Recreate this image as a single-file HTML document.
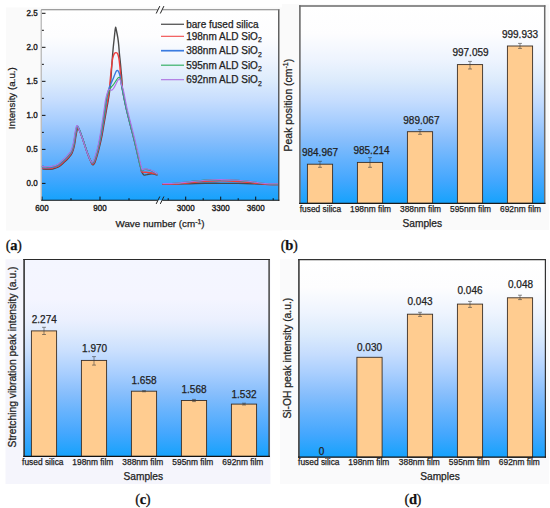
<!DOCTYPE html>
<html><head><meta charset="utf-8"><style>
html,body{margin:0;padding:0;background:#fff;}
svg{display:block;font-family:"Liberation Sans", sans-serif;}
text{stroke:currentColor;stroke-width:0.25px;}
</style></head><body>
<svg width="550" height="508" viewBox="0 0 550 508">
<defs>
<linearGradient id="gA" x1="0" y1="0" x2="0" y2="1">
 <stop offset="0" stop-color="#ffffff"/>
 <stop offset="0.14" stop-color="#fdfdfe"/>
 <stop offset="0.27" stop-color="#eef4fe"/>
 <stop offset="0.376" stop-color="#dcebfc"/>
 <stop offset="0.477" stop-color="#c6ddfe"/>
 <stop offset="0.579" stop-color="#a8cefe"/>
 <stop offset="0.68" stop-color="#87befc"/>
 <stop offset="0.782" stop-color="#64b2fd"/>
 <stop offset="0.883" stop-color="#44a7fe"/>
 <stop offset="1" stop-color="#16a2fc"/>
</linearGradient>
<linearGradient id="gB" x1="0" y1="0" x2="0" y2="1">
 <stop offset="0" stop-color="#ffffff"/>
 <stop offset="0.14" stop-color="#fdfdfe"/>
 <stop offset="0.27" stop-color="#eef4fe"/>
 <stop offset="0.376" stop-color="#dcebfc"/>
 <stop offset="0.477" stop-color="#c6ddfe"/>
 <stop offset="0.579" stop-color="#a8cefe"/>
 <stop offset="0.68" stop-color="#87befc"/>
 <stop offset="0.782" stop-color="#64b2fd"/>
 <stop offset="0.883" stop-color="#44a7fe"/>
 <stop offset="1" stop-color="#16a2fc"/>
</linearGradient>
<linearGradient id="gC" x1="0" y1="0" x2="0" y2="1">
 <stop offset="0" stop-color="#f4f6ff"/>
 <stop offset="0.2" stop-color="#f4f5ff"/>
 <stop offset="0.307" stop-color="#ebf0fe"/>
 <stop offset="0.376" stop-color="#deeafd"/>
 <stop offset="0.46" stop-color="#cbe0fe"/>
 <stop offset="0.579" stop-color="#a8cefe"/>
 <stop offset="0.68" stop-color="#87befc"/>
 <stop offset="0.782" stop-color="#64b2fd"/>
 <stop offset="0.883" stop-color="#44a7fe"/>
 <stop offset="1" stop-color="#16a2fc"/>
</linearGradient>
</defs>
<rect width="550" height="508" fill="#fff"/>
<rect x="6" y="7.5" width="276" height="223" fill="#fafafa"/>
<rect x="41.9" y="9.8" width="236.9" height="190.4" fill="url(#gA)"/>
<line x1="41.9" y1="183.4" x2="45.5" y2="183.4" stroke="#111" stroke-width="1"/>
<text transform="translate(37.6 185.8) scale(0.9 1)" font-size="8.9" text-anchor="end" fill="#222" style="color:#222;stroke-width:0.4px">0.0</text>
<line x1="41.9" y1="166.39" x2="43.9" y2="166.39" stroke="#111" stroke-width="1"/>
<line x1="41.9" y1="149.38" x2="45.5" y2="149.38" stroke="#111" stroke-width="1"/>
<text transform="translate(37.6 151.78) scale(0.9 1)" font-size="8.9" text-anchor="end" fill="#222" style="color:#222;stroke-width:0.4px">0.5</text>
<line x1="41.9" y1="132.37" x2="43.9" y2="132.37" stroke="#111" stroke-width="1"/>
<line x1="41.9" y1="115.36" x2="45.5" y2="115.36" stroke="#111" stroke-width="1"/>
<text transform="translate(37.6 117.76) scale(0.9 1)" font-size="8.9" text-anchor="end" fill="#222" style="color:#222;stroke-width:0.4px">1.0</text>
<line x1="41.9" y1="98.35" x2="43.9" y2="98.35" stroke="#111" stroke-width="1"/>
<line x1="41.9" y1="81.34" x2="45.5" y2="81.34" stroke="#111" stroke-width="1"/>
<text transform="translate(37.6 83.74) scale(0.9 1)" font-size="8.9" text-anchor="end" fill="#222" style="color:#222;stroke-width:0.4px">1.5</text>
<line x1="41.9" y1="64.33" x2="43.9" y2="64.33" stroke="#111" stroke-width="1"/>
<line x1="41.9" y1="47.32" x2="45.5" y2="47.32" stroke="#111" stroke-width="1"/>
<text transform="translate(37.6 49.72) scale(0.9 1)" font-size="8.9" text-anchor="end" fill="#222" style="color:#222;stroke-width:0.4px">2.0</text>
<line x1="41.9" y1="30.31" x2="43.9" y2="30.31" stroke="#111" stroke-width="1"/>
<line x1="41.9" y1="13.3" x2="45.5" y2="13.3" stroke="#111" stroke-width="1"/>
<text transform="translate(37.6 15.7) scale(0.9 1)" font-size="8.9" text-anchor="end" fill="#222" style="color:#222;stroke-width:0.4px">2.5</text>
<line x1="42" y1="200.2" x2="42" y2="196.6" stroke="#111" stroke-width="1"/>
<line x1="71" y1="200.2" x2="71" y2="198.2" stroke="#111" stroke-width="1"/>
<line x1="100" y1="200.2" x2="100" y2="196.6" stroke="#111" stroke-width="1"/>
<line x1="129" y1="200.2" x2="129" y2="198.2" stroke="#111" stroke-width="1"/>
<line x1="168.2" y1="200.2" x2="168.2" y2="198.2" stroke="#111" stroke-width="1"/>
<line x1="185.7" y1="200.2" x2="185.7" y2="196.6" stroke="#111" stroke-width="1"/>
<line x1="203.2" y1="200.2" x2="203.2" y2="198.2" stroke="#111" stroke-width="1"/>
<line x1="220.7" y1="200.2" x2="220.7" y2="196.6" stroke="#111" stroke-width="1"/>
<line x1="238.2" y1="200.2" x2="238.2" y2="198.2" stroke="#111" stroke-width="1"/>
<line x1="255.7" y1="200.2" x2="255.7" y2="196.6" stroke="#111" stroke-width="1"/>
<line x1="273.2" y1="200.2" x2="273.2" y2="198.2" stroke="#111" stroke-width="1"/>
<text transform="translate(42 210.8) scale(0.9 1)" font-size="8.9" text-anchor="middle" fill="#222" style="color:#222;stroke-width:0.4px">600</text>
<text transform="translate(100 210.8) scale(0.9 1)" font-size="8.9" text-anchor="middle" fill="#222" style="color:#222;stroke-width:0.4px">900</text>
<text transform="translate(185.7 210.8) scale(0.9 1)" font-size="8.9" text-anchor="middle" fill="#222" style="color:#222;stroke-width:0.4px">3000</text>
<text transform="translate(220.7 210.8) scale(0.9 1)" font-size="8.9" text-anchor="middle" fill="#222" style="color:#222;stroke-width:0.4px">3300</text>
<text transform="translate(255.7 210.8) scale(0.9 1)" font-size="8.9" text-anchor="middle" fill="#222" style="color:#222;stroke-width:0.4px">3600</text>
<path d="M42.5 169.1C43.33 169.15 45.83 169.42 47.5 169.4C49.17 169.38 50.67 169.4 52.5 169C54.33 168.6 56.57 168.12 58.5 167C60.43 165.88 62.43 163.8 64.1 162.3C65.77 160.8 67.18 159.5 68.5 158C69.82 156.5 71.03 155.33 72 153.3C72.97 151.27 73.62 148.88 74.3 145.8C74.98 142.72 75.53 137.72 76.1 134.8C76.67 131.88 77.13 129.02 77.7 128.3C78.27 127.58 78.62 128.57 79.5 130.5C80.38 132.43 81.63 136 83 139.9C84.37 143.8 86.42 150.33 87.7 153.9C88.98 157.47 89.9 159.52 90.7 161.3C91.5 163.08 91.87 164.27 92.5 164.6C93.13 164.93 93.72 164.85 94.5 163.3C95.28 161.75 96.3 158.35 97.2 155.3C98.1 152.25 99.08 148.38 99.9 145C100.72 141.62 101.42 138.5 102.1 135C102.78 131.5 103.42 127.33 104 124C104.58 120.67 105.1 117.83 105.6 115C106.1 112.17 106.55 109.5 107 107C107.45 104.5 107.83 102.83 108.3 100C108.77 97.17 109.38 93.33 109.8 90C110.22 86.67 110.52 83.33 110.8 80C111.08 76.67 111.27 73.33 111.5 70C111.73 66.67 111.92 63.67 112.2 60C112.48 56.33 112.85 51.72 113.2 48C113.55 44.28 114 40.53 114.3 37.7C114.6 34.87 114.78 32.73 115 31C115.22 29.27 115.38 27.47 115.6 27.3C115.82 27.13 115.93 28.27 116.3 30C116.67 31.73 117.4 35.2 117.8 37.7C118.2 40.2 118.43 42.37 118.7 45C118.97 47.63 119.13 50.67 119.4 53.5C119.67 56.33 120 58.92 120.3 62C120.6 65.08 120.93 69 121.2 72C121.47 75 121.67 77 121.9 80C122.13 83 121.88 85.37 122.6 90C123.32 94.63 124.87 101.88 126.2 107.8C127.53 113.72 129.12 119.58 130.6 125.5C132.08 131.42 133.67 137.38 135.1 143.3C136.53 149.22 138.23 156.87 139.2 161C140.17 165.13 140.5 166.35 140.9 168.1C141.3 169.85 141.12 170.35 141.6 171.5C142.08 172.65 142.9 174.48 143.8 175C144.7 175.52 145.63 174.8 147 174.6C148.37 174.4 150.23 173.73 152 173.8C153.77 173.87 156.67 174.8 157.6 175" fill="none" stroke="#4a4a4a" stroke-width="1.4" stroke-linejoin="round"/>
<path d="M162.3 184.3C164.42 184.27 170.38 184.2 175 184.1C179.62 184 185 183.83 190 183.7C195 183.57 199.83 183.36 205 183.3C210.17 183.24 215.5 183.32 221 183.34C226.5 183.36 232.83 183.34 238 183.4C243.17 183.46 247.5 183.55 252 183.7C256.5 183.85 260.67 184.15 265 184.3C269.33 184.45 275.83 184.55 278 184.6" fill="none" stroke="#4a4a4a" stroke-width="1.4"/>
<path d="M42.2 168.3C43.03 168.35 45.53 168.62 47.2 168.6C48.87 168.58 50.37 168.6 52.2 168.2C54.03 167.8 56.27 167.32 58.2 166.2C60.13 165.08 62.13 163 63.8 161.5C65.47 160 66.88 158.7 68.2 157.2C69.52 155.7 70.73 154.53 71.7 152.5C72.67 150.47 73.32 148.08 74 145C74.68 141.92 75.23 136.92 75.8 134C76.37 131.08 76.83 128.22 77.4 127.5C77.97 126.78 78.32 127.77 79.2 129.7C80.08 131.63 81.33 135.2 82.7 139.1C84.07 143 86.12 149.53 87.4 153.1C88.68 156.67 89.6 158.72 90.4 160.5C91.2 162.28 91.57 163.47 92.2 163.8C92.83 164.13 93.42 164.05 94.2 162.5C94.98 160.95 96.05 157.42 96.9 154.5C97.75 151.58 98.53 148.25 99.3 145C100.07 141.75 100.82 138.5 101.5 135C102.18 131.5 102.82 127.33 103.4 124C103.98 120.67 104.5 117.83 105 115C105.5 112.17 105.95 109.5 106.4 107C106.85 104.5 107.22 102.83 107.7 100C108.18 97.17 108.88 93.33 109.3 90C109.72 86.67 109.88 83.33 110.2 80C110.52 76.67 110.83 73.33 111.2 70C111.57 66.67 112.05 62.33 112.4 60C112.75 57.67 112.93 57.12 113.3 56C113.67 54.88 114.13 53.87 114.6 53.3C115.07 52.73 115.6 52.55 116.1 52.6C116.6 52.65 117.15 52.7 117.6 53.6C118.05 54.5 118.43 55.93 118.8 58C119.17 60.07 119.5 63.22 119.8 66C120.1 68.78 120.3 72.03 120.6 74.7C120.9 77.37 121.28 79.45 121.6 82C121.92 84.55 121.75 85.7 122.5 90C123.25 94.3 124.77 101.88 126.1 107.8C127.43 113.72 129.02 119.58 130.5 125.5C131.98 131.42 133.57 137.38 135 143.3C136.43 149.22 138.13 156.87 139.1 161C140.07 165.13 140.35 166.3 140.8 168.1C141.25 169.9 140.93 171.1 141.8 171.8C142.67 172.5 144.3 172.1 146 172.3C147.7 172.5 150.07 172.63 152 173C153.93 173.37 156.67 174.25 157.6 174.5" fill="none" stroke="#f03c3c" stroke-width="1.4" stroke-linejoin="round"/>
<path d="M162.3 184.2C164.42 184.17 170.38 184.25 175 184C179.62 183.75 185 183.13 190 182.7C195 182.27 199.83 181.7 205 181.4C210.17 181.1 215.5 180.88 221 180.9C226.5 180.92 232.83 181.2 238 181.5C243.17 181.8 247.5 182.25 252 182.7C256.5 183.15 260.67 183.9 265 184.2C269.33 184.5 275.83 184.45 278 184.5" fill="none" stroke="#f03c3c" stroke-width="1.4"/>
<path d="M42 167.4C42.83 167.45 45.33 167.72 47 167.7C48.67 167.68 50.17 167.7 52 167.3C53.83 166.9 56.07 166.42 58 165.3C59.93 164.18 61.93 162.1 63.6 160.6C65.27 159.1 66.68 157.8 68 156.3C69.32 154.8 70.53 153.63 71.5 151.6C72.47 149.57 73.12 147.18 73.8 144.1C74.48 141.02 75.03 136.02 75.6 133.1C76.17 130.18 76.63 127.32 77.2 126.6C77.77 125.88 78.12 126.87 79 128.8C79.88 130.73 81.13 134.3 82.5 138.2C83.87 142.1 85.92 148.63 87.2 152.2C88.48 155.77 89.4 157.82 90.2 159.6C91 161.38 91.37 162.57 92 162.9C92.63 163.23 93.22 163.15 94 161.6C94.78 160.05 95.88 156.37 96.7 153.6C97.52 150.83 98.18 148.1 98.9 145C99.62 141.9 100.33 138.5 101 135C101.67 131.5 102.33 127.33 102.9 124C103.47 120.67 103.95 117.83 104.4 115C104.85 112.17 105.25 109.5 105.6 107C105.95 104.5 106.13 102.33 106.5 100C106.87 97.67 107.37 94.98 107.8 93C108.23 91.02 108.57 89.68 109.1 88.1C109.63 86.52 110.35 85.02 111 83.5C111.65 81.98 112.33 80.58 113 79C113.67 77.42 114.45 75.3 115 74C115.55 72.7 115.92 71.8 116.3 71.2C116.68 70.6 116.95 70.38 117.3 70.4C117.65 70.42 118.03 70.7 118.4 71.3C118.77 71.9 119.17 72.88 119.5 74C119.83 75.12 120.1 76.33 120.4 78C120.7 79.67 120.97 82 121.3 84C121.63 86 121.62 86.03 122.4 90C123.18 93.97 124.67 101.88 126 107.8C127.33 113.72 128.92 119.58 130.4 125.5C131.88 131.42 133.47 137.38 134.9 143.3C136.33 149.22 138.03 156.87 139 161C139.97 165.13 140.25 166.52 140.7 168.1C141.15 169.68 141.15 170.25 141.7 170.5C142.25 170.75 143.12 169.77 144 169.6C144.88 169.43 145.67 169.27 147 169.5C148.33 169.73 150.23 170.22 152 171C153.77 171.78 156.67 173.67 157.6 174.2" fill="none" stroke="#3a78e0" stroke-width="1.4" stroke-linejoin="round"/>
<path d="M162.3 183.6C164.42 183.57 170.38 183.69 175 183.4C179.62 183.11 185 182.37 190 181.85C195 181.33 199.83 180.67 205 180.3C210.17 179.93 215.5 179.63 221 179.65C226.5 179.67 232.83 180.03 238 180.4C243.17 180.77 247.5 181.32 252 181.85C256.5 182.38 260.67 183.26 265 183.6C269.33 183.94 275.83 183.85 278 183.9" fill="none" stroke="#3a78e0" stroke-width="1.4"/>
<path d="M41.8 166.8C42.63 166.85 45.13 167.12 46.8 167.1C48.47 167.08 49.97 167.1 51.8 166.7C53.63 166.3 55.87 165.82 57.8 164.7C59.73 163.58 61.73 161.5 63.4 160C65.07 158.5 66.48 157.2 67.8 155.7C69.12 154.2 70.33 153.03 71.3 151C72.27 148.97 72.92 146.58 73.6 143.5C74.28 140.42 74.83 135.42 75.4 132.5C75.97 129.58 76.43 126.72 77 126C77.57 125.28 77.92 126.27 78.8 128.2C79.68 130.13 80.93 133.7 82.3 137.6C83.67 141.5 85.72 148.03 87 151.6C88.28 155.17 89.2 157.22 90 159C90.8 160.78 91.17 161.97 91.8 162.3C92.43 162.63 93.02 162.55 93.8 161C94.58 159.45 95.7 155.67 96.5 153C97.3 150.33 97.92 148 98.6 145C99.28 142 99.95 138.5 100.6 135C101.25 131.5 101.93 127.33 102.5 124C103.07 120.67 103.55 117.83 104 115C104.45 112.17 104.83 109.5 105.2 107C105.57 104.5 105.77 102.17 106.2 100C106.63 97.83 107.28 95.67 107.8 94C108.32 92.33 108.75 91.12 109.3 90C109.85 88.88 110.4 88.22 111.1 87.3C111.8 86.38 112.77 85.47 113.5 84.5C114.23 83.53 114.83 82.5 115.5 81.5C116.17 80.5 116.98 79.17 117.5 78.5C118.02 77.83 118.28 77.68 118.6 77.5C118.92 77.32 119.12 77.15 119.4 77.4C119.68 77.65 119.98 77.9 120.3 79C120.62 80.1 120.92 82.17 121.3 84C121.68 85.83 121.78 86.03 122.6 90C123.42 93.97 124.87 101.88 126.2 107.8C127.53 113.72 129.12 119.58 130.6 125.5C132.08 131.42 133.67 137.38 135.1 143.3C136.53 149.22 138.23 156.87 139.2 161C140.17 165.13 140.45 166.57 140.9 168.1C141.35 169.63 141.38 169.98 141.9 170.2C142.42 170.42 143.15 169.55 144 169.4C144.85 169.25 145.67 169.07 147 169.3C148.33 169.53 150.23 169.98 152 170.8C153.77 171.62 156.67 173.63 157.6 174.2" fill="none" stroke="#30b060" stroke-width="1.2" stroke-linejoin="round"/>
<path d="M162.3 183.5C164.42 183.47 170.38 183.59 175 183.3C179.62 183.01 185 182.27 190 181.75C195 181.23 199.83 180.57 205 180.2C210.17 179.83 215.5 179.53 221 179.55C226.5 179.57 232.83 179.93 238 180.3C243.17 180.67 247.5 181.22 252 181.75C256.5 182.28 260.67 183.16 265 183.5C269.33 183.84 275.83 183.75 278 183.8" fill="none" stroke="#30b060" stroke-width="1.2"/>
<path d="M41.5 166.5C42.33 166.55 44.83 166.82 46.5 166.8C48.17 166.78 49.67 166.8 51.5 166.4C53.33 166 55.57 165.52 57.5 164.4C59.43 163.28 61.43 161.2 63.1 159.7C64.77 158.2 66.18 156.9 67.5 155.4C68.82 153.9 70.03 152.73 71 150.7C71.97 148.67 72.62 146.28 73.3 143.2C73.98 140.12 74.53 135.12 75.1 132.2C75.67 129.28 76.13 126.42 76.7 125.7C77.27 124.98 77.62 125.97 78.5 127.9C79.38 129.83 80.63 133.4 82 137.3C83.37 141.2 85.42 147.73 86.7 151.3C87.98 154.87 88.9 156.92 89.7 158.7C90.5 160.48 90.87 161.67 91.5 162C92.13 162.33 92.72 162.25 93.5 160.7C94.28 159.15 95.42 155.32 96.2 152.7C96.98 150.08 97.55 147.95 98.2 145C98.85 142.05 99.48 138.5 100.1 135C100.72 131.5 101.37 127.33 101.9 124C102.43 120.67 102.87 117.83 103.3 115C103.73 112.17 104.13 109.5 104.5 107C104.87 104.5 105.08 102.17 105.5 100C105.92 97.83 106.52 95.67 107 94C107.48 92.33 107.97 90.77 108.4 90C108.83 89.23 109.23 89.45 109.6 89.4C109.97 89.35 110.23 89.57 110.6 89.7C110.97 89.83 111.32 90.4 111.8 90.2C112.28 90 112.88 89.37 113.5 88.5C114.12 87.63 114.83 86.25 115.5 85C116.17 83.75 116.92 82 117.5 81C118.08 80 118.55 79.17 119 79C119.45 78.83 119.83 79.17 120.2 80C120.57 80.83 120.68 82.33 121.2 84C121.72 85.67 122.35 86.03 123.3 90C124.25 93.97 125.57 101.88 126.9 107.8C128.23 113.72 129.82 119.58 131.3 125.5C132.78 131.42 134.37 137.38 135.8 143.3C137.23 149.22 138.93 156.87 139.9 161C140.87 165.13 141.2 166.63 141.6 168.1C142 169.57 141.93 169.63 142.3 169.8C142.67 169.97 143.02 169.23 143.8 169.1C144.58 168.97 145.63 168.75 147 169C148.37 169.25 150.23 169.77 152 170.6C153.77 171.43 156.67 173.43 157.6 174" fill="none" stroke="#b070e8" stroke-width="1.15" stroke-linejoin="round"/>
<path d="M162.3 183.5C164.42 183.47 170.38 183.59 175 183.3C179.62 183.01 185 182.27 190 181.75C195 181.23 199.83 180.57 205 180.2C210.17 179.83 215.5 179.53 221 179.55C226.5 179.57 232.83 179.93 238 180.3C243.17 180.67 247.5 181.22 252 181.75C256.5 182.28 260.67 183.16 265 183.5C269.33 183.84 275.83 183.75 278 183.8" fill="none" stroke="#b070e8" stroke-width="1.15"/>
<line x1="41.2" y1="9.8" x2="41.2" y2="200.2" stroke="#a4a4a4" stroke-width="1"/>
<line x1="278.8" y1="9.3" x2="278.8" y2="200.7" stroke="#3a3a3a" stroke-width="1.2"/>
<path d="M41.2 9.8H157.8M162.3 9.8H279.4" stroke="#808080" stroke-width="1.1" fill="none"/>
<path d="M41.2 200.2H157.8M162.3 200.2H279.4" stroke="#111" stroke-width="1.1" fill="none"/>
<line x1="156.2" y1="13.5" x2="159.8" y2="6.1" stroke="#222" stroke-width="1"/>
<line x1="160.3" y1="13.5" x2="163.9" y2="6.1" stroke="#222" stroke-width="1"/>
<line x1="156.2" y1="203.9" x2="159.8" y2="196.5" stroke="#222" stroke-width="1"/>
<line x1="160.3" y1="203.9" x2="163.9" y2="196.5" stroke="#222" stroke-width="1"/>
<line x1="161" y1="24.3" x2="184" y2="24.3" stroke="#606060" stroke-width="1.4"/>
<text x="186.2" y="27.7" font-size="10" text-anchor="start" fill="#222" style="color:#222">bare fused silica</text>
<line x1="161" y1="36.3" x2="184" y2="36.3" stroke="#f04848" stroke-width="1.1"/>
<text x="186.2" y="39.7" font-size="10" text-anchor="start" fill="#222" style="color:#222">198nm ALD SiO<tspan font-size="6.8" dy="2.6">2</tspan></text>
<line x1="161" y1="50.7" x2="184" y2="50.7" stroke="#3a7be0" stroke-width="1.7"/>
<text x="186.2" y="54.1" font-size="10" text-anchor="start" fill="#222" style="color:#222">388nm ALD SiO<tspan font-size="6.8" dy="2.6">2</tspan></text>
<line x1="161" y1="65.2" x2="184" y2="65.2" stroke="#38b068" stroke-width="1.2"/>
<text x="186.2" y="68.6" font-size="10" text-anchor="start" fill="#222" style="color:#222">595nm ALD SiO<tspan font-size="6.8" dy="2.6">2</tspan></text>
<line x1="161" y1="79.7" x2="184" y2="79.7" stroke="#ad70e0" stroke-width="1.1"/>
<text x="186.2" y="83.1" font-size="10" text-anchor="start" fill="#222" style="color:#222">692nm ALD SiO<tspan font-size="6.8" dy="2.6">2</tspan></text>
<text x="160" y="227.3" font-size="9.8" text-anchor="middle" fill="#222" style="color:#222">Wave number (cm<tspan font-size="6.8" dy="-3.6">-1</tspan><tspan dy="3.6">)</tspan></text>
<text transform="translate(15.3 98.2) rotate(-90)" font-size="9.8" text-anchor="middle" fill="#222" style="color:#222">Intensity (a.u.)</text>
<text x="5.8" y="250.4" font-family='Liberation Serif', serif font-size="14.5" fill="#111" style="color:#111" letter-spacing="-0.4">(<tspan font-weight="bold">a</tspan>)</text>
<rect x="282" y="4" width="267" height="226" fill="#fafafa"/>
<rect x="299.9" y="6" width="244.8" height="197.3" fill="url(#gB)"/>
<rect x="307.4" y="164.2" width="25.2" height="39.1" fill="#ffcc90" stroke="#3a2e26" stroke-width="0.9"/>
<path d="M320 161.3V167.3M318 161.3H322M318 167.3H322" stroke="#3a3a3a" stroke-opacity="0.7" stroke-width="0.8" fill="none"/>
<text x="320" y="155.5" font-size="10" text-anchor="middle" fill="#222" style="color:#222">984.967</text>
<rect x="357.4" y="162.4" width="25.2" height="40.9" fill="#ffcc90" stroke="#3a2e26" stroke-width="0.9"/>
<path d="M370 157.6V167.3M368 157.6H372M368 167.3H372" stroke="#3a3a3a" stroke-opacity="0.7" stroke-width="0.8" fill="none"/>
<text x="371.5" y="153.6" font-size="10" text-anchor="middle" fill="#222" style="color:#222">985.214</text>
<rect x="407.4" y="131.7" width="25.2" height="71.6" fill="#ffcc90" stroke="#3a2e26" stroke-width="0.9"/>
<path d="M420 129.6V134.3M418 129.6H422M418 134.3H422" stroke="#3a3a3a" stroke-opacity="0.7" stroke-width="0.8" fill="none"/>
<text x="421.4" y="123.5" font-size="10" text-anchor="middle" fill="#222" style="color:#222">989.067</text>
<rect x="457.4" y="64.6" width="25.2" height="138.7" fill="#ffcc90" stroke="#3a2e26" stroke-width="0.9"/>
<path d="M470 61.4V69M468 61.4H472M468 69H472" stroke="#3a3a3a" stroke-opacity="0.7" stroke-width="0.8" fill="none"/>
<text x="470.5" y="55.5" font-size="10" text-anchor="middle" fill="#222" style="color:#222">997.059</text>
<rect x="507.4" y="46" width="25.2" height="157.3" fill="#ffcc90" stroke="#3a2e26" stroke-width="0.9"/>
<path d="M520 43.4V48.4M518 43.4H522M518 48.4H522" stroke="#3a3a3a" stroke-opacity="0.7" stroke-width="0.8" fill="none"/>
<text x="520" y="37.8" font-size="10" text-anchor="middle" fill="#222" style="color:#222">999.933</text>
<line x1="299.9" y1="5.25" x2="299.9" y2="203.9" stroke="#6a6a6a" stroke-width="1.6"/>
<line x1="544.7" y1="5.25" x2="544.7" y2="203.9" stroke="#6a6a6a" stroke-width="1.5"/>
<line x1="299.1" y1="6" x2="545.45" y2="6" stroke="#6a6a6a" stroke-width="1.5"/>
<line x1="299.1" y1="203.3" x2="545.45" y2="203.3" stroke="#1a1a1a" stroke-width="1.2"/>
<text x="320.5" y="211.5" font-size="8.4" text-anchor="middle" fill="#222" style="color:#222">fused silica</text>
<text x="370.5" y="211.5" font-size="8.4" text-anchor="middle" fill="#222" style="color:#222">198nm film</text>
<text x="420.5" y="211.5" font-size="8.4" text-anchor="middle" fill="#222" style="color:#222">388nm film</text>
<text x="470.5" y="211.5" font-size="8.4" text-anchor="middle" fill="#222" style="color:#222">595nm film</text>
<text x="520.5" y="211.5" font-size="8.4" text-anchor="middle" fill="#222" style="color:#222">692nm film</text>
<text x="422.3" y="226.6" font-size="10.2" text-anchor="middle" fill="#222" style="color:#222">Samples</text>
<text transform="translate(291.7 105.1) rotate(-90)" font-size="10.45" text-anchor="middle" fill="#222" style="color:#222">Peak position (cm<tspan font-size="7" dy="-3.7">-1</tspan><tspan dy="3.7">)</tspan></text>
<text x="280.8" y="250.4" font-family='Liberation Serif', serif font-size="14.5" fill="#111" style="color:#111" letter-spacing="-0.4">(<tspan font-weight="bold">b</tspan>)</text>
<rect x="5.5" y="259.2" width="265" height="224.8" fill="#f5f5fc"/>
<rect x="24.1" y="259.5" width="245" height="196.9" fill="url(#gC)"/>
<rect x="31.4" y="330.9" width="25.2" height="125.5" fill="#ffcc90" stroke="#3a2e26" stroke-width="0.9"/>
<path d="M44 327.3V334.5M42 327.3H46M42 334.5H46" stroke="#3a3a3a" stroke-opacity="0.7" stroke-width="0.8" fill="none"/>
<text x="44.3" y="322.7" font-size="10" text-anchor="middle" fill="#222" style="color:#222">2.274</text>
<rect x="81.4" y="360.4" width="25.2" height="96" fill="#ffcc90" stroke="#3a2e26" stroke-width="0.9"/>
<path d="M94 356.6V365.1M92 356.6H96M92 365.1H96" stroke="#3a3a3a" stroke-opacity="0.7" stroke-width="0.8" fill="none"/>
<text x="94.6" y="351.9" font-size="10" text-anchor="middle" fill="#222" style="color:#222">1.970</text>
<rect x="131.4" y="391.2" width="25.2" height="65.2" fill="#ffcc90" stroke="#3a2e26" stroke-width="0.9"/>
<path d="M144 390.6V391.8M142 390.6H146M142 391.8H146" stroke="#3a3a3a" stroke-opacity="0.7" stroke-width="0.8" fill="none"/>
<text x="144" y="383.6" font-size="10" text-anchor="middle" fill="#222" style="color:#222">1.658</text>
<rect x="181.4" y="400.5" width="25.2" height="55.9" fill="#ffcc90" stroke="#3a2e26" stroke-width="0.9"/>
<path d="M194 399.4V401.6M192 399.4H196M192 401.6H196" stroke="#3a3a3a" stroke-opacity="0.7" stroke-width="0.8" fill="none"/>
<text x="194" y="392.6" font-size="10" text-anchor="middle" fill="#222" style="color:#222">1.568</text>
<rect x="231.4" y="404.1" width="25.2" height="52.3" fill="#ffcc90" stroke="#3a2e26" stroke-width="0.9"/>
<path d="M244 403.2V405M242 403.2H246M242 405H246" stroke="#3a3a3a" stroke-opacity="0.7" stroke-width="0.8" fill="none"/>
<text x="244" y="398.1" font-size="10" text-anchor="middle" fill="#222" style="color:#222">1.532</text>
<line x1="24.1" y1="258.9" x2="24.1" y2="457.05" stroke="#333" stroke-width="1.6"/>
<line x1="269.1" y1="258.9" x2="269.1" y2="457.05" stroke="#444" stroke-width="1.5"/>
<line x1="23.3" y1="259.5" x2="269.85" y2="259.5" stroke="#2a2a2a" stroke-width="1.2"/>
<line x1="23.3" y1="456.4" x2="269.85" y2="456.4" stroke="#111" stroke-width="1.3"/>
<text x="42.8" y="464.6" font-size="8.4" text-anchor="middle" fill="#222" style="color:#222">fused silica</text>
<text x="92.8" y="464.6" font-size="8.4" text-anchor="middle" fill="#222" style="color:#222">198nm film</text>
<text x="142.8" y="464.6" font-size="8.4" text-anchor="middle" fill="#222" style="color:#222">388nm film</text>
<text x="192.8" y="464.6" font-size="8.4" text-anchor="middle" fill="#222" style="color:#222">595nm film</text>
<text x="242.8" y="464.6" font-size="8.4" text-anchor="middle" fill="#222" style="color:#222">692nm film</text>
<text x="143.3" y="480.3" font-size="10.2" text-anchor="middle" fill="#222" style="color:#222">Samples</text>
<text transform="translate(16.3 357) rotate(-90)" font-size="10.3" text-anchor="middle" fill="#222" style="color:#222">Stretching vibration peak intensity (a.u.)</text>
<text x="135.3" y="504.2" font-family='Liberation Serif', serif font-size="14.5" fill="#111" style="color:#111" letter-spacing="-0.4">(<tspan font-weight="bold">c</tspan>)</text>
<rect x="280" y="259.2" width="269" height="224.8" fill="#fafafb"/>
<rect x="298.9" y="259.6" width="246.5" height="197.6" fill="url(#gB)"/>
<text x="321.5" y="454.5" font-size="10" text-anchor="middle" fill="#222" style="color:#222">0</text>
<rect x="356.9" y="357.3" width="25.2" height="99.9" fill="#ffcc90" stroke="#3a2e26" stroke-width="0.9"/>
<text x="369.5" y="351" font-size="10" text-anchor="middle" fill="#222" style="color:#222">0.030</text>
<rect x="407.4" y="314.2" width="25.2" height="143" fill="#ffcc90" stroke="#3a2e26" stroke-width="0.9"/>
<path d="M420 312.3V316.4M418 312.3H422M418 316.4H422" stroke="#3a3a3a" stroke-opacity="0.7" stroke-width="0.8" fill="none"/>
<text x="420" y="304.6" font-size="10" text-anchor="middle" fill="#222" style="color:#222">0.043</text>
<rect x="457.4" y="304.1" width="25.2" height="153.1" fill="#ffcc90" stroke="#3a2e26" stroke-width="0.9"/>
<path d="M470 301.4V307.4M468 301.4H472M468 307.4H472" stroke="#3a3a3a" stroke-opacity="0.7" stroke-width="0.8" fill="none"/>
<text x="470" y="294" font-size="10" text-anchor="middle" fill="#222" style="color:#222">0.046</text>
<rect x="507.4" y="297.8" width="25.2" height="159.4" fill="#ffcc90" stroke="#3a2e26" stroke-width="0.9"/>
<path d="M520 295.2V299.6M518 295.2H522M518 299.6H522" stroke="#3a3a3a" stroke-opacity="0.7" stroke-width="0.8" fill="none"/>
<text x="520.5" y="287.6" font-size="10" text-anchor="middle" fill="#222" style="color:#222">0.048</text>
<line x1="298.9" y1="259.05" x2="298.9" y2="457.85" stroke="#505050" stroke-width="1.8"/>
<line x1="545.4" y1="259.05" x2="545.4" y2="457.85" stroke="#333" stroke-width="1.2"/>
<line x1="298" y1="259.6" x2="546" y2="259.6" stroke="#333" stroke-width="1.1"/>
<line x1="298" y1="457.2" x2="546" y2="457.2" stroke="#111" stroke-width="1.3"/>
<text x="318.8" y="465" font-size="8.4" text-anchor="middle" fill="#222" style="color:#222">fused silica</text>
<text x="368.8" y="465" font-size="8.4" text-anchor="middle" fill="#222" style="color:#222">198nm film</text>
<text x="419.3" y="465" font-size="8.4" text-anchor="middle" fill="#222" style="color:#222">388nm film</text>
<text x="469.3" y="465" font-size="8.4" text-anchor="middle" fill="#222" style="color:#222">595nm film</text>
<text x="519.3" y="465" font-size="8.4" text-anchor="middle" fill="#222" style="color:#222">692nm film</text>
<text x="440" y="480.2" font-size="10.2" text-anchor="middle" fill="#222" style="color:#222">Samples</text>
<text transform="translate(291.3 358.2) rotate(-90)" font-size="10.3" text-anchor="middle" fill="#222" style="color:#222">Si-OH peak intensity (a.u.)</text>
<text x="404.5" y="504.2" font-family='Liberation Serif', serif font-size="14.5" fill="#111" style="color:#111" letter-spacing="-0.4">(<tspan font-weight="bold">d</tspan>)</text>
</svg></body></html>
